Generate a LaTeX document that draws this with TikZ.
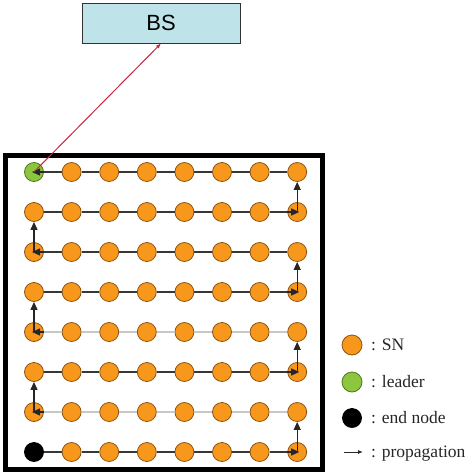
\documentclass[tikz,border=0pt]{standalone}
\usepackage{fontspec}
\setmainfont{Liberation Serif}
\setsansfont{Liberation Sans}
\usetikzlibrary{arrows.meta}
\definecolor{sn}{RGB}{247,152,29}
\definecolor{snborder}{RGB}{140,85,20}
\definecolor{leadgreen}{RGB}{140,198,63}
\definecolor{leadborder}{RGB}{80,120,30}
\definecolor{bsfill}{RGB}{190,228,233}
\definecolor{darkline}{RGB}{55,55,55}
\definecolor{lightline}{RGB}{200,200,200}
\definecolor{redline}{RGB}{200,40,60}
\tikzset{
  sensor/.style={circle,draw=snborder,fill=sn,line width=0.8pt,minimum size=19pt,inner sep=0pt},
  leaderstyle/.style={fill=leadgreen,draw=leadborder},
  endstyle/.style={fill=black,draw=black},
  kind11/.style={leaderstyle},
  kind81/.style={endstyle},
  link/.style={line width=1.1pt,draw=darkline},
  faint/.style={line width=1.1pt,draw=lightline},
  rowkind5/.style={faint},
  rowkind7/.style={faint},
  prop/.style={-{Triangle[length=8pt,width=7pt]},line width=1.2pt,draw=black!85},
  legtext/.style={anchor=base west,inner sep=0pt,font=\fontsize{17.5}{18}\selectfont,text=black!85}
}
\begin{document}
\begin{tikzpicture}[x=1pt,y=-1pt]
\useasboundingbox (0,0) rectangle (474,474);
% base station
\node[draw=black!80,line width=0.9pt,fill=bsfill,minimum width=158pt,minimum height=40pt,inner sep=0pt,
      font=\sffamily\fontsize{22}{22}\selectfont] (bs) at (161,23) {BS};
% field frame
\node[draw=black,line width=5pt,minimum width=317pt,minimum height=314pt,inner sep=0pt] (frame) at (164,312.5) {};
% sensor grid
\foreach \r in {1,...,8} {
  \foreach \c in {1,...,8} {
    \node[sensor,kind\r\c/.try] (n\r\c) at ({34+(\c-1)*37.6},{172+(\r-1)*40}) {};
  }
}
% horizontal links
\foreach \r in {1,...,8} {
  \foreach \c [evaluate=\c as \d using int(\c+1)] in {1,...,7} {
    \draw[link,rowkind\r/.try] (n\r\c.east) -- (n\r\d.west);
  }
}
% arrowheads into the last node of each row
\foreach \r in {1,3,5,7} { \draw[prop] (n\r1.east) -- ([xshift=-2pt]n\r1.center); }
\foreach \r in {2,4,6,8} { \draw[prop] (n\r8.west) -- ([xshift=2pt]n\r8.center); }
% vertical arrows
\foreach \r [evaluate=\r as \q using int(\r-1)] in {2,4,6,8} { \draw[prop] (n\r8.center) -- (n\q8.south); }
\foreach \r [evaluate=\r as \q using int(\r-1)] in {3,5,7} { \draw[prop] (n\r1.center) -- (n\q1.south); }
% leader to BS
\draw[redline,line width=1pt,-{Latex[length=5pt,width=4pt]}] (n11.center) -- (bs.south);
% legend
\node[sensor,minimum size=20pt] (lsn) at (352,345) {};
\node[sensor,leaderstyle,minimum size=20pt] (llead) at (352,382) {};
\node[sensor,endstyle,minimum size=19pt] (lend) at (352,418) {};
\coordinate (la) at (344,452);
\coordinate (lb) at (363,452);
\draw[-{Latex[length=5pt,width=4pt]},line width=0.9pt,black!85] (la) -- (lb);
\node[legtext] (tsn) at (371,350) {: SN};
\node[legtext] (tlead) at (371,387) {: leader};
\node[legtext] (tend) at (371,423) {: end node};
\node[legtext] (tprop) at (371,457) {: propagation};
\end{tikzpicture}
\end{document}
